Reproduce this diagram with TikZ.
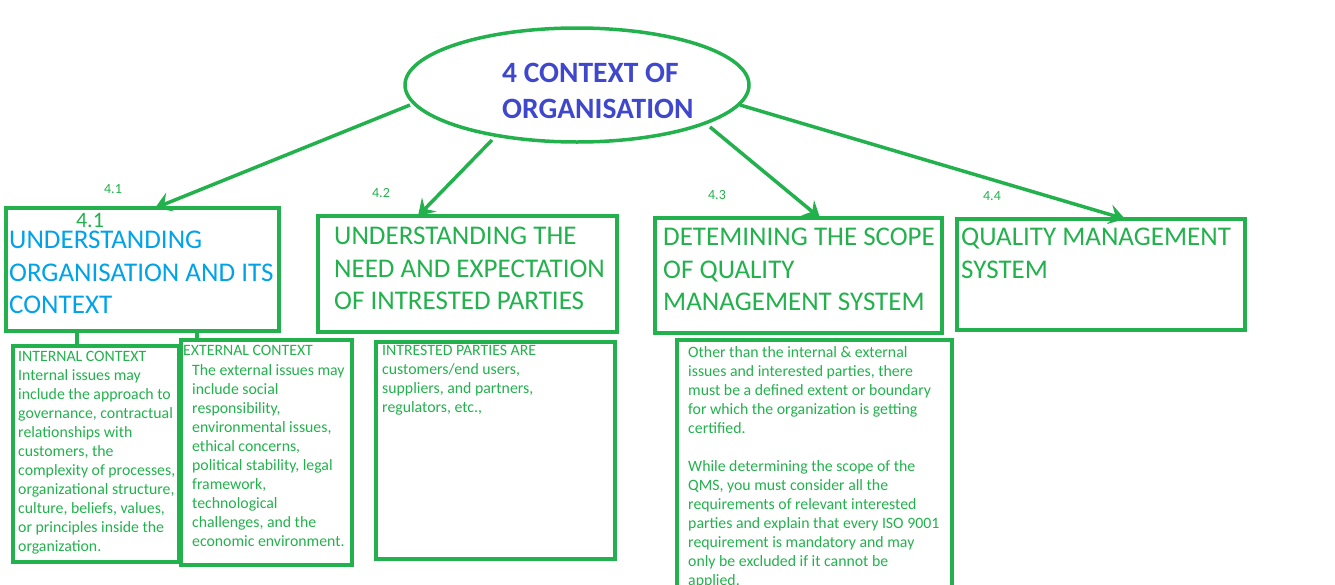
\documentclass[tikz,border=0pt]{standalone}
\usepackage{fontspec}
\setmainfont{Carlito}
\usetikzlibrary{shapes.geometric,arrows.meta}
\definecolor{gr}{HTML}{22B14C}
\definecolor{bl}{HTML}{3F48CC}
\definecolor{lb}{HTML}{00A2E8}
\tikzset{
  box/.style={draw=gr,line width=3.5pt},
  big/.style={anchor=north west,align=left,inner sep=0pt,font=\fontsize{27}{32.5}\selectfont},
  small/.style={anchor=north west,align=left,inner sep=0pt,text=gr,font=\fontsize{15.8}{19}\selectfont},
  num/.style={text=gr,inner sep=0pt,font=\fontsize{14}{14}\selectfont},
  arr/.style={draw=gr,line width=3.5pt,-{Stealth[length=16pt,width=20pt,inset=6pt]}},
  link/.style={draw=gr,line width=3.5pt}
}
\begin{document}
\begin{tikzpicture}[x=1pt,y=-1pt]
\useasboundingbox (0,0) rectangle (1335,584);
\node[ellipse,draw=gr,line width=3.5pt,minimum width=344pt,minimum height=114pt] (ell) at (577,85) {};
\node[text=bl,font=\bfseries\fontsize{29.5}{36}\selectfont,align=left,anchor=north west,inner sep=0pt] (title) at (502,63) {4 CONTEXT OF\\ORGANISATION};
% boxes
\draw[box] (6,208) rectangle (279,331);
\coordinate (b1) at (155,208);
\draw[box] (318,216) rectangle (617,332);
\coordinate (b2) at (418,216);
\draw[box] (655,218) rectangle (942,333);
\coordinate (b3) at (820,218);
\draw[box] (957,219) rectangle (1245,330);
\coordinate (b4) at (1125,219);
\node[big,text=lb] (t1) at (9,231) {UNDERSTANDING\\ORGANISATION AND ITS\\CONTEXT};
\node[text=gr,inner sep=0pt,font=\fontsize{22}{22}\selectfont] (n41b) at (90,221) {4.1};
\node[big,text=gr] (t2) at (334,227) {UNDERSTANDING THE\\NEED AND EXPECTATION\\OF INTRESTED PARTIES};
\node[big,text=gr] (t3) at (663,228) {DETEMINING THE SCOPE\\OF QUALITY\\MANAGEMENT SYSTEM};
\node[big,text=gr] (t4) at (961,228) {QUALITY MANAGEMENT\\SYSTEM};
\node[num] (n1) at (113,189) {4.1};
\node[num] (n2) at (381,193) {4.2};
\node[num] (n3) at (717,195) {4.3};
\node[num] (n4) at (992,196) {4.4};
% arrows
\coordinate (e1) at (410,105);
\coordinate (e2) at (492,140);
\coordinate (e3) at (710,127);
\coordinate (e4) at (740,105);
\draw[arr] (e1) -- (b1);
\draw[arr] (e2) -- (b2);
\draw[arr] (e3) -- (b3);
\draw[arr] (e4) -- (b4);
% sub boxes
\draw[box] (13,346) rectangle (179,562);
\draw[box] (181,340) rectangle (352,565);
\draw[box] (376,342) rectangle (615,559);
\draw[box] (677,340) rectangle (952,600);
\coordinate (c1a) at (77,331); \coordinate (c1b) at (77,346);
\coordinate (c2a) at (197,329); \coordinate (c2b) at (197,340);
\draw[link] (c1a) -- (c1b);
\draw[link] (c2a) -- (c2b);
\node[small] (s1) at (18,351) {INTERNAL CONTEXT\\Internal issues may\\include the approach to\\governance, contractual\\relationships with\\customers, the\\complexity of processes,\\organizational structure,\\culture, beliefs, values,\\or principles inside the\\organization.};
\node[small] (s2h) at (183,345) {EXTERNAL CONTEXT};
\node[small] (s2) at (192,364) {The external issues may\\include social\\responsibility,\\environmental issues,\\ethical concerns,\\political stability, legal\\framework,\\technological\\challenges, and the\\economic environment.};
\node[small] (s3) at (382,345) {INTRESTED PARTIES ARE\\customers/end users,\\suppliers, and partners,\\regulators, etc.,};
\node[small] (s4) at (688,346) {Other than the internal \& external\\issues and interested parties, there\\must be a defined extent or boundary\\for which the organization is getting\\certified.\\[19pt]While determining the scope of the\\QMS, you must consider all the\\requirements of relevant interested\\parties and explain that every ISO 9001\\requirement is mandatory and may\\only be excluded if it cannot be\\applied.};
\end{tikzpicture}
\end{document}
